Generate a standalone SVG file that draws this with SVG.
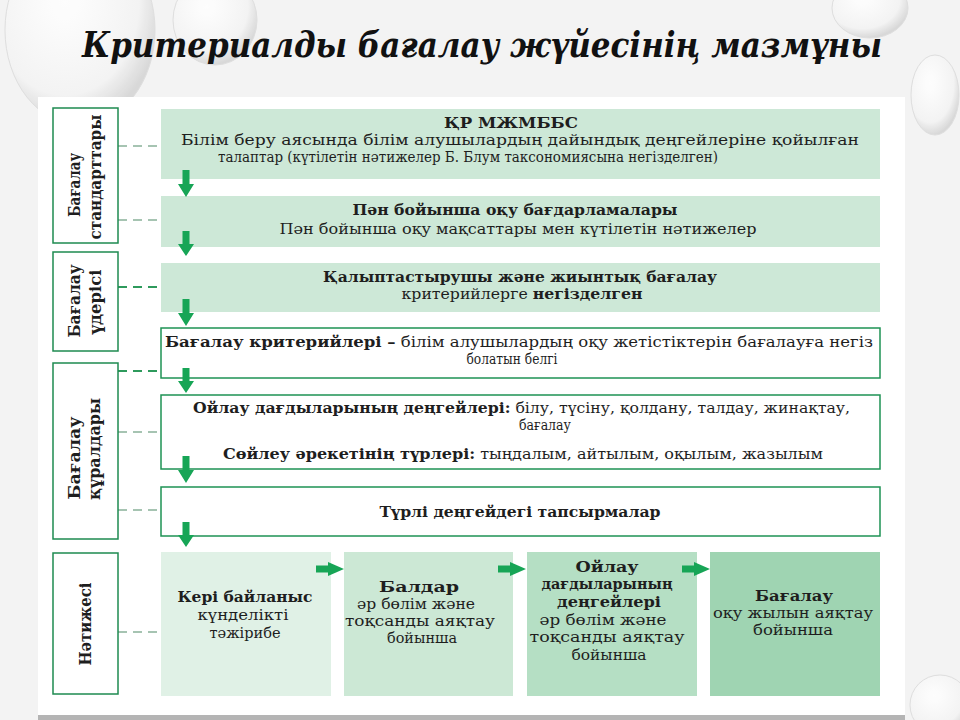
<svg xmlns="http://www.w3.org/2000/svg" width="960" height="720" viewBox="0 0 960 720">
<defs>
<radialGradient id="drop" cx="40%" cy="35%" r="65%">
<stop offset="0" stop-color="#ffffff"/>
<stop offset="0.75" stop-color="#f4f4f4"/>
<stop offset="1" stop-color="#d6d6d6"/>
</radialGradient>
<path id="darr" d="M-3.5,0 H3.5 V14 H8 L0,27 L-8,14 H-3.5 Z"/>
<path id="rarr" d="M0,-3.5 H12 V-7 L28,0 L12,7 V3.5 H0 Z"/>
<style>
.t{font-family:"DejaVu Serif","Liberation Serif",serif;font-stretch:condensed;font-size:15px;fill:#1e1e1e}
.s{font-size:16px}
.b{font-weight:bold}
.lbl{fill:#ffffff;stroke:#1e8a50;stroke-width:1.5}
.fill{fill:#cde8d7}
.out{fill:#ffffff;stroke:#1e9254;stroke-width:1.5}
.arr{fill:#17a556}
.dash{stroke:#4f8a66;stroke-width:1.2;stroke-dasharray:9 6;fill:none}
.dash2{stroke:#2e9a5c;stroke-width:2;stroke-dasharray:9 6;fill:none}
</style>
</defs>
<rect x="0" y="0" width="960" height="720" fill="#f3f3f3"/>
<g id="droplets" opacity="0.9">
<ellipse cx="80" cy="30" rx="75" ry="95" fill="url(#drop)" stroke="#dcdcdc"/>
<ellipse cx="215" cy="20" rx="42" ry="45" fill="url(#drop)" stroke="#dcdcdc"/>
<ellipse cx="870" cy="8" rx="38" ry="30" fill="url(#drop)" stroke="#dcdcdc"/>
<ellipse cx="935" cy="95" rx="24" ry="40" fill="url(#drop)" stroke="#dcdcdc"/>
<ellipse cx="940" cy="705" rx="30" ry="30" fill="url(#drop)" stroke="#dcdcdc"/>
</g>
<rect x="38" y="97" width="867" height="619" fill="#ffffff"/>
<rect x="38" y="715" width="867" height="5" fill="#b4b4b4"/>
<text id="title" x="482" y="57" text-anchor="middle" font-family="DejaVu Serif, Liberation Serif, serif" font-stretch="condensed" font-size="36" font-weight="bold" font-style="italic" fill="#111" textLength="800" lengthAdjust="spacingAndGlyphs">Критериалды бағалау жүйесінің мазмұны</text>

<g id="connectors">
<line class="dash" x1="118" y1="146" x2="161" y2="146"/>
<line class="dash" x1="118" y1="220" x2="161" y2="220"/>
<line class="dash2" x1="118" y1="287" x2="161" y2="287"/>
<line class="dash2" x1="118" y1="371" x2="161" y2="371"/>
<line class="dash" x1="118" y1="432" x2="161" y2="432"/>
<line class="dash" x1="118" y1="510" x2="161" y2="510"/>
<line class="dash" x1="118" y1="632" x2="161" y2="632"/>
</g>

<g id="label-standards">
<rect class="lbl" x="53" y="108" width="65" height="135"/>
<text class="t b s" transform="translate(80,185) rotate(-90)" text-anchor="middle" textLength="64" lengthAdjust="spacingAndGlyphs">Бағалау</text>
<text class="t b s" transform="translate(101,177) rotate(-90)" text-anchor="middle" textLength="125" lengthAdjust="spacingAndGlyphs">стандарттары</text>
</g>
<g id="label-process">
<rect class="lbl" x="53" y="252" width="65" height="99"/>
<text class="t b s" transform="translate(80,301) rotate(-90)" text-anchor="middle" textLength="73" lengthAdjust="spacingAndGlyphs">Бағалау</text>
<text class="t b s" transform="translate(101,302) rotate(-90)" text-anchor="middle" textLength="65" lengthAdjust="spacingAndGlyphs">үдерісі</text>
</g>
<g id="label-tools">
<rect class="lbl" x="53" y="363" width="65" height="176"/>
<text class="t b s" transform="translate(80,458) rotate(-90)" text-anchor="middle" textLength="83" lengthAdjust="spacingAndGlyphs">Бағалау</text>
<text class="t b s" transform="translate(100,449) rotate(-90)" text-anchor="middle" textLength="102" lengthAdjust="spacingAndGlyphs">құралдары</text>
</g>
<g id="label-result">
<rect class="lbl" x="53" y="553" width="65" height="141"/>
<text class="t b s" transform="translate(91,624) rotate(-90)" text-anchor="middle" textLength="83" lengthAdjust="spacingAndGlyphs">Нәтижесі</text>
</g>

<g id="box-standard">
<rect class="fill" x="161" y="109" width="719" height="70"/>
<text class="t b" x="511" y="128" text-anchor="middle" textLength="134" lengthAdjust="spacingAndGlyphs">ҚР МЖМББС</text>
<text class="t" x="520" y="145" text-anchor="middle" textLength="678" lengthAdjust="spacingAndGlyphs">Білім беру аясында білім алушылардың дайындық деңгейлеріне қойылған</text>
<text class="t" x="468" y="162" text-anchor="middle" textLength="500" lengthAdjust="spacingAndGlyphs">талаптар (күтілетін нәтижелер Б. Блум таксономиясына негізделген)</text>
</g>
<g id="box-program">
<rect class="fill" x="161" y="196" width="719" height="51"/>
<text class="t b" x="515" y="215" text-anchor="middle" textLength="325" lengthAdjust="spacingAndGlyphs">Пән бойынша оқу бағдарламалары</text>
<text class="t" x="518" y="234" text-anchor="middle" textLength="477" lengthAdjust="spacingAndGlyphs">Пән бойынша оқу мақсаттары мен күтілетін нәтижелер</text>
</g>
<g id="box-assessment">
<rect class="fill" x="161" y="263" width="719" height="49"/>
<text class="t b" x="520" y="282" text-anchor="middle" textLength="394" lengthAdjust="spacingAndGlyphs">Қалыптастырушы және жиынтық бағалау</text>
<text class="t" x="522" y="299" text-anchor="middle" textLength="241" lengthAdjust="spacingAndGlyphs">критерийлерге <tspan class="b">негізделген</tspan></text>
</g>
<g id="box-criteria">
<rect class="out" x="161" y="328" width="719" height="50"/>
<text class="t" x="165" y="347" textLength="708" lengthAdjust="spacingAndGlyphs"><tspan class="b">Бағалау критерийлері –</tspan> білім алушылардың оқу жетістіктерін бағалауға негіз</text>
<text class="t" x="512" y="364" text-anchor="middle" textLength="91" lengthAdjust="spacingAndGlyphs">болатын белгі</text>
</g>
<g id="box-levels">
<rect class="out" x="161" y="395" width="719" height="74"/>
<text class="t" x="193" y="413" textLength="657" lengthAdjust="spacingAndGlyphs"><tspan class="b">Ойлау дағдыларының деңгейлері:</tspan> білу, түсіну, қолдану,  талдау, жинақтау,</text>
<text class="t" x="545" y="430" text-anchor="middle" textLength="52" lengthAdjust="spacingAndGlyphs">бағалау</text>
<text class="t" x="223" y="459" textLength="600" lengthAdjust="spacingAndGlyphs"><tspan class="b">Сөйлеу әрекетінің түрлері:</tspan> тыңдалым, айтылым, оқылым, жазылым</text>
</g>
<g id="box-tasks">
<rect class="out" x="161" y="487" width="719" height="49"/>
<text class="t b" x="520" y="517" text-anchor="middle" textLength="281" lengthAdjust="spacingAndGlyphs">Түрлі деңгейдегі тапсырмалар</text>
</g>

<g id="res-feedback">
<rect x="161" y="552" width="170" height="144" fill="#e0f1e6"/>
<text class="t b" x="245" y="602" text-anchor="middle" textLength="135" lengthAdjust="spacingAndGlyphs">Кері байланыс</text>
<text class="t" x="243" y="620" text-anchor="middle" textLength="91" lengthAdjust="spacingAndGlyphs">күнделікті</text>
<text class="t" x="245" y="638" text-anchor="middle" textLength="71" lengthAdjust="spacingAndGlyphs">тәжірибе</text>
</g>
<g id="res-scores">
<rect x="344" y="552" width="169" height="144" fill="#cce8d5"/>
<text class="t b" x="419" y="592" text-anchor="middle" textLength="80" lengthAdjust="spacingAndGlyphs">Балдар</text>
<text class="t" x="416" y="609" text-anchor="middle" textLength="118" lengthAdjust="spacingAndGlyphs">әр бөлім және</text>
<text class="t" x="420" y="626" text-anchor="middle" textLength="150" lengthAdjust="spacingAndGlyphs">тоқсанды аяқтау</text>
<text class="t" x="422" y="643" text-anchor="middle" textLength="70" lengthAdjust="spacingAndGlyphs">бойынша</text>
</g>
<g id="res-levels">
<rect x="527" y="552" width="170" height="144" fill="#b5dfc4"/>
<text class="t b" x="607" y="572" text-anchor="middle" textLength="63" lengthAdjust="spacingAndGlyphs">Ойлау</text>
<text class="t b" x="607" y="589" text-anchor="middle" textLength="131" lengthAdjust="spacingAndGlyphs">дағдыларының</text>
<text class="t b" x="609" y="607" text-anchor="middle" textLength="104" lengthAdjust="spacingAndGlyphs">деңгейлері</text>
<text class="t" x="603" y="625" text-anchor="middle" textLength="127" lengthAdjust="spacingAndGlyphs">әр бөлім және</text>
<text class="t" x="607" y="642" text-anchor="middle" textLength="155" lengthAdjust="spacingAndGlyphs">тоқсанды аяқтау</text>
<text class="t" x="609" y="660" text-anchor="middle" textLength="75" lengthAdjust="spacingAndGlyphs">бойынша</text>
</g>
<g id="res-grade">
<rect x="710" y="552" width="170" height="144" fill="#9fd4b2"/>
<text class="t b" x="794" y="601" text-anchor="middle" textLength="78" lengthAdjust="spacingAndGlyphs">Бағалау</text>
<text class="t" x="793" y="618" text-anchor="middle" textLength="160" lengthAdjust="spacingAndGlyphs">оқу жылын аяқтау</text>
<text class="t" x="793" y="635" text-anchor="middle" textLength="80" lengthAdjust="spacingAndGlyphs">бойынша</text>
</g>

<g id="arrows" class="arr">
<use href="#darr" transform="translate(186,170)"/>
<use href="#darr" transform="translate(186,231) scale(1,0.93)"/>
<use href="#darr" transform="translate(186,299)"/>
<use href="#darr" transform="translate(186,368) scale(1,0.93)"/>
<use href="#darr" transform="translate(186,456)"/>
<use href="#darr" transform="translate(186,522) scale(1,0.93)"/>
<use href="#rarr" transform="translate(316,569)"/>
<use href="#rarr" transform="translate(498,569)"/>
<use href="#rarr" transform="translate(682,569)"/>
</g>
</svg>
